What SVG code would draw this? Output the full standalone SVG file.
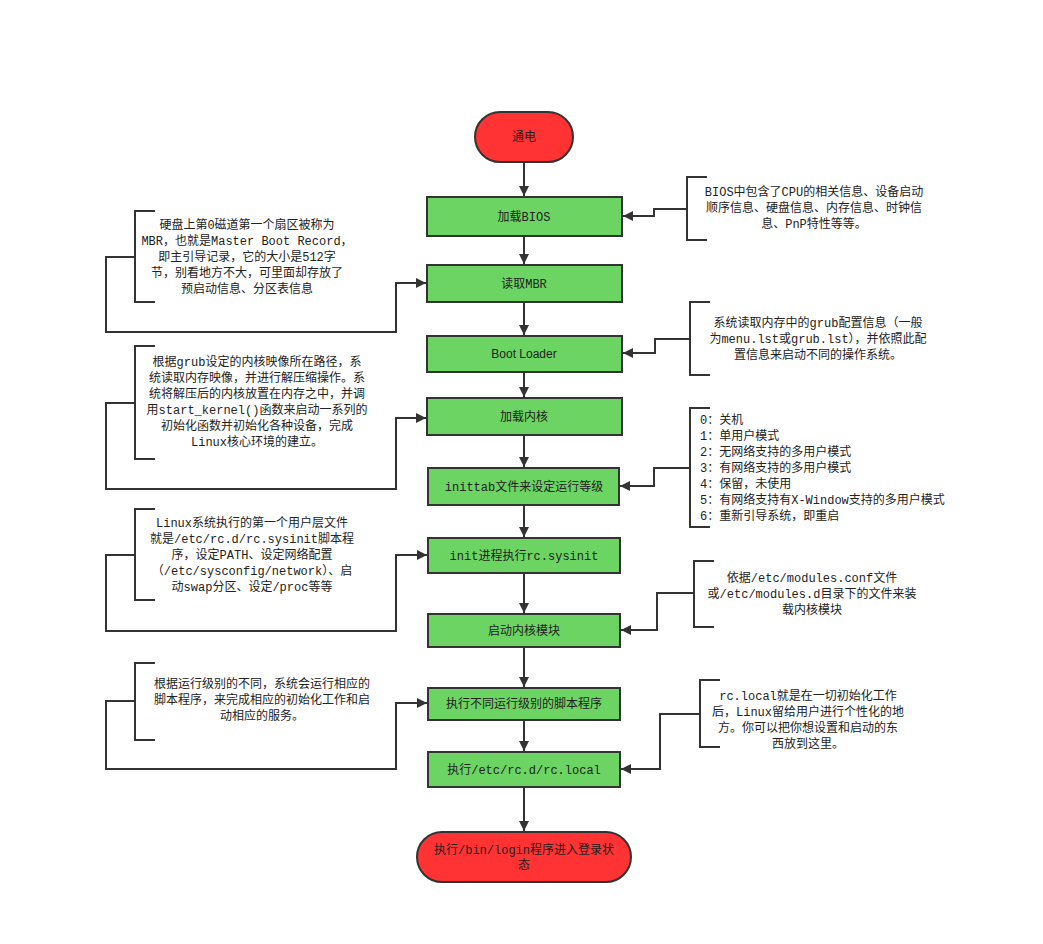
<svg xmlns="http://www.w3.org/2000/svg" width="1043" height="944" viewBox="0 0 1043 944">
<defs>
<marker id="ah" viewBox="0 0 10 10" refX="10" refY="5" markerWidth="10" markerHeight="10" markerUnits="userSpaceOnUse" orient="auto"><path d="M0,0 L10,5 L0,10 z" fill="#333"/></marker>
<style>
.g{fill:#6cd463;stroke:#333;stroke-width:2}
.r{fill:#ff3333;stroke:#333;stroke-width:2}
.c{fill:none;stroke:#333;stroke-width:2}
.t{font-family:"Liberation Mono","Noto Sans CJK SC",monospace;font-size:12px;fill:#222;text-anchor:middle}
.l{font-family:"Liberation Mono","Noto Sans CJK SC",monospace;font-size:12px;fill:#222}
</style>
</defs>
<rect width="1043" height="944" fill="#fff"/>
<g id="connectors">
<path class="c" d="M524,163 V196" marker-end="url(#ah)"/>
<path class="c" d="M524,237 V264" marker-end="url(#ah)"/>
<path class="c" d="M524,303 V335" marker-end="url(#ah)"/>
<path class="c" d="M524,373 V397" marker-end="url(#ah)"/>
<path class="c" d="M524,436 V467" marker-end="url(#ah)"/>
<path class="c" d="M524,506 V537" marker-end="url(#ah)"/>
<path class="c" d="M524,574 V613" marker-end="url(#ah)"/>
<path class="c" d="M524,648 V687" marker-end="url(#ah)"/>
<path class="c" d="M524,721 V751" marker-end="url(#ah)"/>
<path class="c" d="M524,788 V831" marker-end="url(#ah)"/>
<path class="c" d="M135,257 H106 V332 H396 V283 H426" marker-end="url(#ah)"/>
<path class="c" d="M135,403 H106 V489 H396 V418 H426" marker-end="url(#ah)"/>
<path class="c" d="M135,555 H106 V631 H396 V555 H427" marker-end="url(#ah)"/>
<path class="c" d="M135,701 H106 V769 H396 V703 H427" marker-end="url(#ah)"/>
<path class="c" d="M687,209 H654 V216 H623" marker-end="url(#ah)"/>
<path class="c" d="M690,339 H655 V353 H623" marker-end="url(#ah)"/>
<path class="c" d="M690,468 H654 V486 H620" marker-end="url(#ah)"/>
<path class="c" d="M694,593 H657 V630 H621" marker-end="url(#ah)"/>
<path class="c" d="M700,714 H660 V769 H621" marker-end="url(#ah)"/>
</g>
<g id="n1"><rect class="r" x="475" y="112" width="98" height="50" rx="25"/><text class="t" x="524" y="141">通电</text></g>
<g id="n2"><rect class="g" x="427" y="197" width="195" height="39"/><text class="t" x="524" y="221">加载BIOS</text></g>
<g id="n3"><rect class="g" x="427" y="265" width="195" height="37"/><text class="t" x="524" y="288">读取MBR</text></g>
<g id="n4"><rect class="g" x="427" y="336" width="195" height="36"/><text class="t" x="524" y="358" style="font-family:'Liberation Sans',sans-serif">Boot Loader</text></g>
<g id="n5"><rect class="g" x="427" y="398" width="195" height="37"/><text class="t" x="524" y="421">加载内核</text></g>
<g id="n6"><rect class="g" x="428" y="468" width="191" height="37"/><text class="t" x="524" y="491">inittab文件来设定运行等级</text></g>
<g id="n7"><rect class="g" x="428" y="538" width="192" height="35"/><text class="t" x="524" y="560">init进程执行rc.sysinit</text></g>
<g id="n8"><rect class="g" x="428" y="614" width="192" height="33"/><text class="t" x="524" y="635">启动内核模块</text></g>
<g id="n9"><rect class="g" x="428" y="688" width="192" height="32"/><text class="t" x="524" y="708">执行不同运行级别的脚本程序</text></g>
<g id="n10"><rect class="g" x="428" y="752" width="192" height="35"/><text class="t" x="524" y="774">执行/etc/rc.d/rc.local</text></g>
<g id="n11"><rect class="r" x="417" y="832" width="214" height="50" rx="25"/><text class="t" x="524" y="854">执行/bin/login程序进入登录状</text><text class="t" x="524" y="869">态</text></g>
<g id="a1"><path class="c" d="M155,211 H135 V302 H155"/><text class="t" x="247" y="229">硬盘上第0磁道第一个扇区被称为</text><text class="t" x="247" y="245">MBR，也就是Master Boot Record，</text><text class="t" x="247" y="261">即主引导记录，它的大小是512字</text><text class="t" x="247" y="277">节，别看地方不大，可里面却存放了</text><text class="t" x="247" y="293">预启动信息、分区表信息</text></g>
<g id="a2"><path class="c" d="M155,346 H135 V459 H155"/><text class="t" x="257" y="366">根据grub设定的内核映像所在路径，系</text><text class="t" x="257" y="382">统读取内存映像，并进行解压缩操作。系</text><text class="t" x="257" y="398">统将解压后的内核放置在内存之中，并调</text><text class="t" x="257" y="414">用start_kernel()函数来启动一系列的</text><text class="t" x="257" y="430">初始化函数并初始化各种设备，完成</text><text class="t" x="257" y="446">Linux核心环境的建立。</text></g>
<g id="a3"><path class="c" d="M155,509 H135 V600 H155"/><text class="t" x="252" y="527">Linux系统执行的第一个用户层文件</text><text class="t" x="252" y="543">就是/etc/rc.d/rc.sysinit脚本程</text><text class="t" x="252" y="559">序，设定PATH、设定网络配置</text><text class="t" x="252" y="575">（/etc/sysconfig/network）、启</text><text class="t" x="252" y="591">动swap分区、设定/proc等等</text></g>
<g id="a4"><path class="c" d="M155,663 H135 V740 H155"/><text class="t" x="262" y="688">根据运行级别的不同，系统会运行相应的</text><text class="t" x="262" y="704">脚本程序，来完成相应的初始化工作和启</text><text class="t" x="262" y="720">动相应的服务。</text></g>
<g id="b1"><path class="c" d="M707,177 H687 V240 H707"/><text class="t" x="814" y="196">BIOS中包含了CPU的相关信息、设备启动</text><text class="t" x="814" y="212">顺序信息、硬盘信息、内存信息、时钟信</text><text class="t" x="814" y="228">息、PnP特性等等。</text></g>
<g id="b2"><path class="c" d="M710,302 H690 V375 H710"/><text class="t" x="818" y="327">系统读取内存中的grub配置信息（一般</text><text class="t" x="818" y="343">为menu.lst或grub.lst），并依照此配</text><text class="t" x="818" y="359">置信息来启动不同的操作系统。</text></g>
<g id="b3"><path class="c" d="M710,408 H690 V527 H710"/><text class="l" x="700" y="424">0：关机</text><text class="l" x="700" y="440">1：单用户模式</text><text class="l" x="700" y="456">2：无网络支持的多用户模式</text><text class="l" x="700" y="472">3：有网络支持的多用户模式</text><text class="l" x="700" y="488">4：保留，未使用</text><text class="l" x="700" y="504">5：有网络支持有X-Window支持的多用户模式</text><text class="l" x="700" y="520">6：重新引导系统，即重启</text></g>
<g id="b4"><path class="c" d="M714,561 H694 V627 H714"/><text class="t" x="812" y="582">依据/etc/modules.conf文件</text><text class="t" x="812" y="598">或/etc/modules.d目录下的文件来装</text><text class="t" x="812" y="614">载内核模块</text></g>
<g id="b5"><path class="c" d="M720,680 H700 V747 H720"/><text class="t" x="808" y="700">rc.local就是在一切初始化工作</text><text class="t" x="808" y="716">后，Linux留给用户进行个性化的地</text><text class="t" x="808" y="732">方。你可以把你想设置和启动的东</text><text class="t" x="808" y="748">西放到这里。</text></g>
</svg>
